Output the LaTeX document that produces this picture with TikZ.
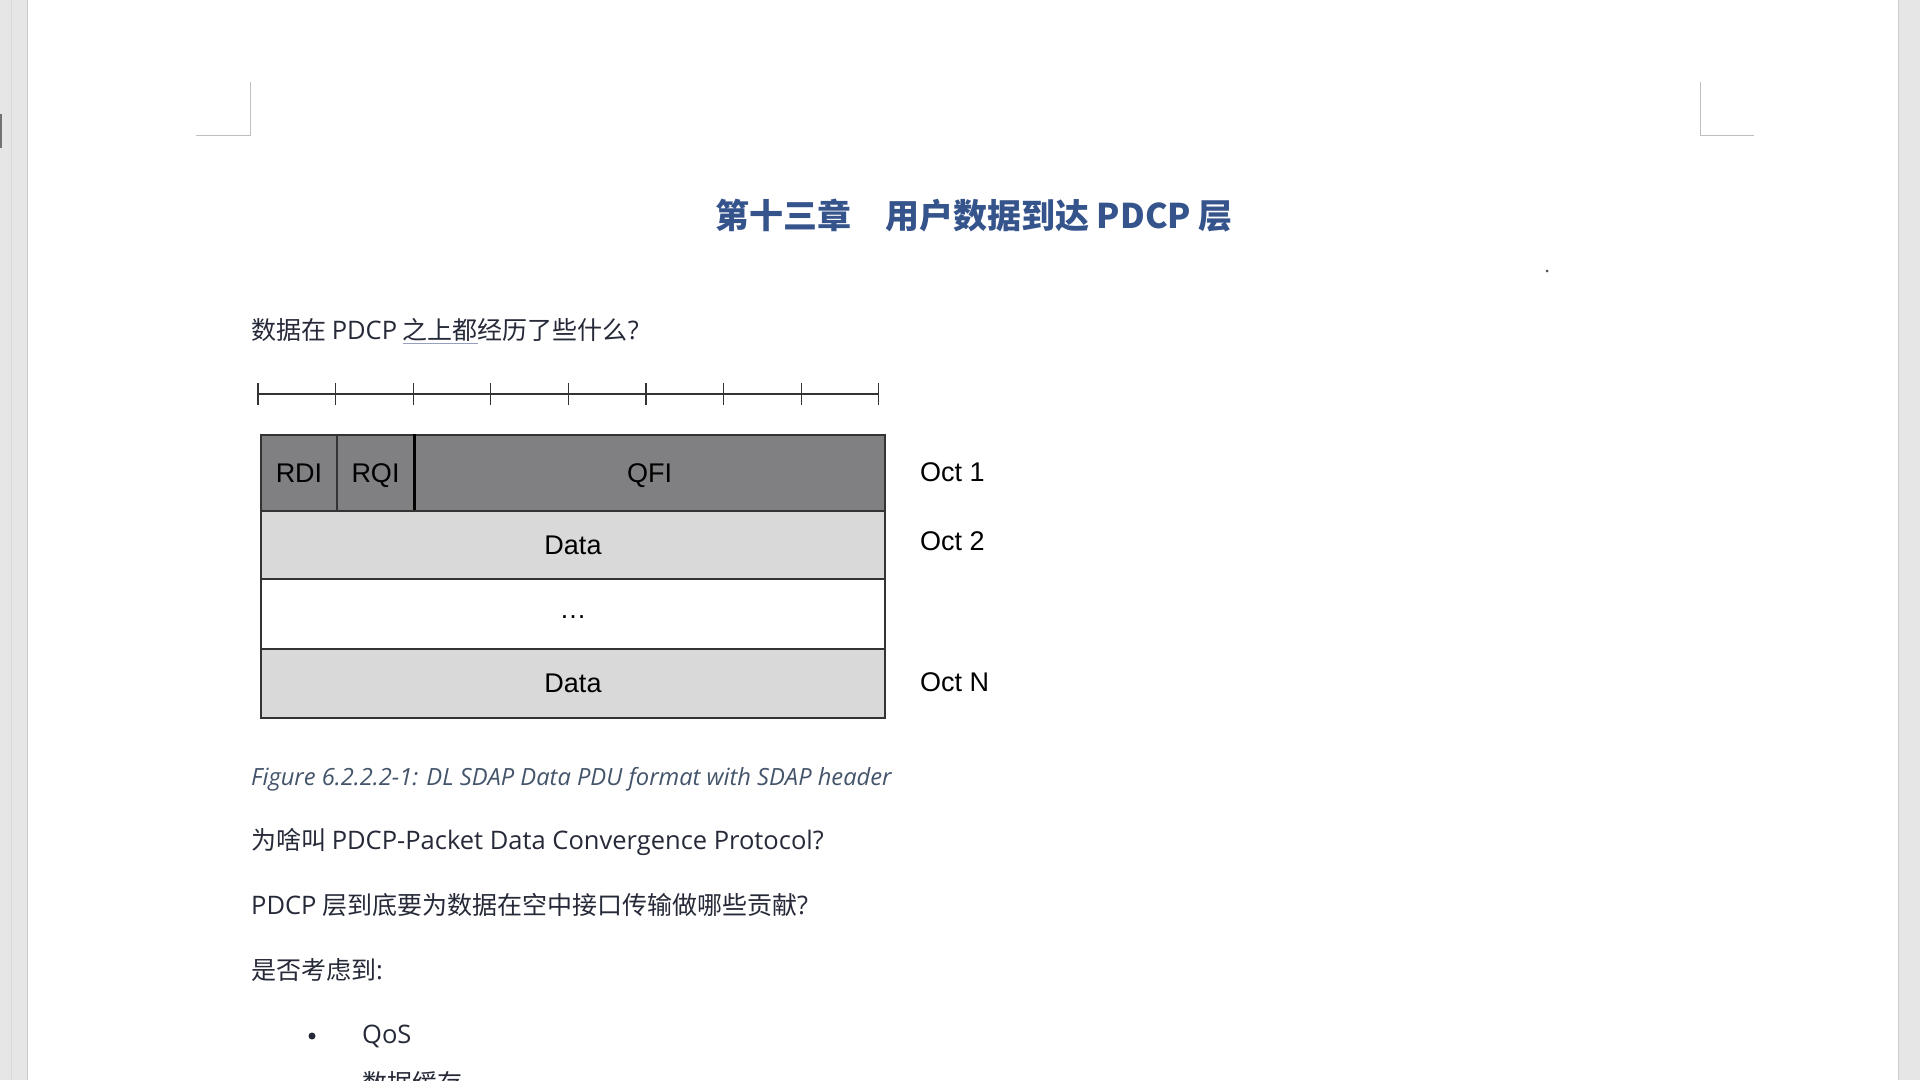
\documentclass[tikz,border=0pt]{standalone}
\usepackage{fontspec}
\setmainfont{Liberation Sans}
\newfontfamily\cjk{Noto Sans CJK SC}
\newfontfamily\capfont{Open Sans}
\newcommand\lat[1]{{\capfont\fontsize{25.5}{30}\selectfont #1}}
\definecolor{titleblue}{RGB}{54,84,140}
\definecolor{bodytext}{RGB}{38,42,56}
\definecolor{captext}{RGB}{68,84,106}
\definecolor{hdrgrey}{RGB}{128,127,130}
\definecolor{datagrey}{RGB}{217,217,217}
\definecolor{panelgrey}{RGB}{230,230,230}
\definecolor{glinecol}{RGB}{150,160,190}
\newcommand\gline[1]{\setbox0\hbox{#1}\rlap{\textcolor{glinecol}{\rule[-5pt]{\wd0}{1pt}}}\box0}
\tikzset{
  bodyline/.style={anchor=west,inner sep=0pt,text=bodytext,
    font=\cjk\fontsize{25}{30}\selectfont},
  cell/.style={draw=black!80,line width=1.2pt,inner sep=0pt,
    text height=18pt,text depth=0pt,
    font=\fontsize{27}{30}\selectfont},
  octlabel/.style={anchor=west,inner sep=0pt,
    text height=20pt,text depth=0pt,
    font=\fontsize{27}{30}\selectfont},
  cornermark/.style={draw=black!25,line width=1pt}
}
\begin{document}
\begin{tikzpicture}[x=1pt,y=-1pt]
      \useasboundingbox (0,0) rectangle (1920,1080);
      \clip (0,0) rectangle (1920,1080);
      % window frame
      \path[fill=white] (0,0) rectangle (1920,1080);
      \path[fill=panelgrey] (0,0) rectangle (27,1080);
      \path[fill=panelgrey] (1899,0) rectangle (1920,1080);
      \draw[black!15] (11,0) -- (11,1080);
      \draw[black!20] (27.5,0) -- (27.5,1080);
      \draw[black!20] (1898.5,0) -- (1898.5,1080);
      \path[fill=black!55] (0,114) rectangle (2,148);
      \draw[cornermark] (196,135) -- (250,135) -- (250,82);
      \draw[cornermark] (1754,135) -- (1700,135) -- (1700,82);
      \path[fill=black!70] (1547,271) circle (1.5);
      % heading
      \node[inner sep=0pt,text=titleblue,
        font=\cjk\bfseries\fontsize{34}{40}\selectfont] (title) at (974,216)
        {第十三章\hspace{1em}用户数据到达 PDCP 层};
      \node[bodyline] (q1) at (251,331)
        {数据在 \lat{PDCP} \gline{之上都}经历了些什么\lat{?}};
      % bit ruler
      \draw[black!80,line width=1.2pt] (258,394) -- (879,394);
      \foreach \i in {0,...,8}
        \draw[black!80,line width=1.2pt] (258+\i*77.6,383) -- (258+\i*77.6,405);
      % PDU format
      \node[cell,fill=hdrgrey,minimum width=76pt,minimum height=76pt] (rdi) at (299,473) {RDI};
      \node[cell,fill=hdrgrey,minimum width=77pt,minimum height=76pt] (rqi) at (375.5,473) {RQI};
      \node[cell,fill=hdrgrey,minimum width=471pt,minimum height=76pt] (qfi) at (649.5,473) {QFI};
      \draw[black,line width=2.5pt] (rqi.north east) -- (rqi.south east);
      \node[cell,fill=datagrey,minimum width=624pt,minimum height=68pt] (data1) at (573,545) {Data};
      \node[cell,fill=white,minimum width=624pt,minimum height=70pt,
        text height=8pt] (dots) at (573,614) {\ldots};
      \node[cell,fill=datagrey,minimum width=624pt,minimum height=69pt] (dataN) at (573,683.5) {Data};
      \node[octlabel] (oct1) at (920,471) {Oct 1};
      \node[octlabel] (oct2) at (920,540) {Oct 2};
      \node[octlabel] (octN) at (920,681) {Oct N};
      % caption and text
      \node[anchor=west,inner sep=0pt,text=captext,
        font=\capfont\itshape\fontsize{23.7}{28}\selectfont] (caption) at (251,779)
        {Figure 6.2.2.2-1: DL SDAP Data PDU format with SDAP header};
      \node[bodyline] (q2) at (251,842)
        {为啥叫 \lat{PDCP-Packet Data Convergence Protocol?}};
      \node[bodyline] (q3) at (251,905)
        {\lat{PDCP} 层到底要为数据在空中接口传输做哪些贡献\lat{?}};
      \node[bodyline] (q4) at (251,970) {是否考虑到\lat{:}};
      \path[fill=bodytext] (312,1036) circle (3.5);
      \node[bodyline] (qos) at (362,1036) {\lat{QoS}};
      \node[bodyline] (buffer) at (362,1083) {数据缓存};
\end{tikzpicture}
\end{document}
